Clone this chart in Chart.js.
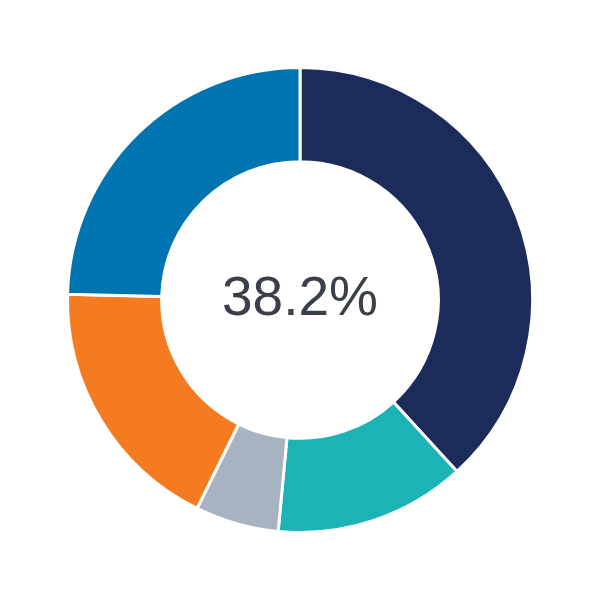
<!DOCTYPE html>
<html>
<head>
<meta charset="utf-8">
<script src="https://cdn.jsdelivr.net/npm/chart.js@4/dist/chart.umd.min.js"></script>
<style>
  html, body { margin: 0; padding: 0; background: #fff; }
  #wrap { width: 600px; height: 600px; }
</style>
</head>
<body>
<div id="wrap"><canvas id="donut"></canvas></div>
<script>
// data (clockwise from 12 o'clock)
const labels = ["Segment 1", "Segment 2", "Segment 3", "Segment 4", "Segment 5"];
const shares = [38.2, 13.3, 5.8, 18.1, 24.6];
const colors = ["#1c2b5a", "#1bb3b6", "#a8b3c1", "#f47b20", "#0073b1"];
const centerText = "38.2%";

// draws the big percentage in the hole
const centerLabel = {
  id: "centerLabel",
  afterDraw(chart) {
    const meta = chart.getDatasetMeta(0);
    if (!meta.data.length) return;
    const { x, y } = meta.data[0];
    const ctx = chart.ctx;
    ctx.save();
    ctx.font = "55px 'Liberation Sans', Arial, sans-serif";
    ctx.fillStyle = "#3a3f4a";
    ctx.textAlign = "center";
    ctx.textBaseline = "middle";
    ctx.fillText(centerText, x, y);
    ctx.restore();
  }
};

const ctx = document.getElementById("donut").getContext("2d");
new Chart(ctx, {
  type: "doughnut",
  data: {
    labels: labels,
    datasets: [{
      data: shares,
      backgroundColor: colors,
      borderColor: "#ffffff",
      borderWidth: 3
    }]
  },
  options: {
    responsive: true,
    maintainAspectRatio: false,
    animation: false,
    cutout: "59.5%",
    layout: { padding: 66 },
    plugins: {
      legend: { display: false },
      tooltip: { enabled: false }
    }
  },
  plugins: [centerLabel]
});
</script>
</body>
</html>
